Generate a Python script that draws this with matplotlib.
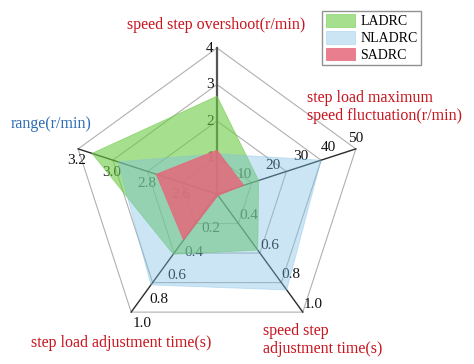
import numpy as np
import matplotlib
matplotlib.use('Agg')
import matplotlib.pyplot as plt

plt.rcParams['font.family'] = ['Liberation Serif', 'DejaVu Serif']

# axes of the radar, clockwise from the top
axis_names = ['speed step overshoot(r/min)',
              'step load maximum\nspeed fluctuation(r/min)',
              'speed step\nadjustment time(s)',
              'step load adjustment time(s)',
              'range(r/min)']
axis_min = [0, 0, 0.2, 0, 2.4]
axis_max = [4, 50, 1.0, 1.0, 3.2]
axis_ticks = [[1, 2, 3, 4],
              [10, 20, 30, 40, 50],
              [0.4, 0.6, 0.8, 1.0],
              [0.2, 0.4, 0.6, 0.8, 1.0],
              [2.6, 2.8, 3.0, 3.2]]
tick_fmt = ['{:.0f}', '{:.0f}', '{:.1f}', '{:.1f}', '{:.1f}']

series = ['LADRC', 'NLADRC', 'SADRC']
ladrc = [2.68, 15, 0.58, 0.51, 3.12]
nladrc = [1.1, 37.5, 0.85, 0.77, 2.97]
sadrc = [1.2, 9.6, 0.21, 0.39, 2.75]

angles = np.deg2rad([90, 18, -54, -126, 162])

W, H = 474, 364
cx, cy, R = 217, 194, 146  # pixel centre and radius


def to_xy(vals):
    vals = np.asarray(vals, float)
    r = (vals - np.array(axis_min)) / (np.array(axis_max) - np.array(axis_min))
    return r * np.cos(angles), r * np.sin(angles)


def px(x, y):
    # pixel position -> data coords
    return (x - cx) / R, (cy - y) / R


fig = plt.figure(figsize=(W / 100, H / 100), dpi=100)
ax = fig.add_axes([0, 0, 1, 1])
ax.set_xlim(-cx / R, (W - cx) / R)
ax.set_ylim(-(H - cy) / R, cy / R)
ax.axis('off')

# pentagon grid
for lev in [0.25, 0.5, 0.75, 1.0]:
    gx = np.append(lev * np.cos(angles), lev * np.cos(angles[0]))
    gy = np.append(lev * np.sin(angles), lev * np.sin(angles[0]))
    ax.plot(gx, gy, color='#b0b0b0', lw=0.8, zorder=1)

# spokes
for i, a in enumerate(angles):
    ax.plot([0, np.cos(a)], [0, np.sin(a)],
            color='#555555' if i == 0 else '#2a2a2a',
            lw=1.6 if i == 0 else 1.0, zorder=2)

# tick labels (pixel offsets from the spoke)
offsets = [(-7, 0), (0, -10), (10, -8), (11, 11), (-1, 12)]
for i, a in enumerate(angles):
    for t in axis_ticks[i]:
        r = (t - axis_min[i]) / (axis_max[i] - axis_min[i])
        x = r * np.cos(a) + offsets[i][0] / R
        y = r * np.sin(a) - offsets[i][1] / R
        ax.text(x, y, tick_fmt[i].format(t), fontsize=11, color='#111111',
                ha='center', va='center', zorder=2)

colors = ['#6bcb43', '#7dc0e6', '#e4687a']
alphas = [0.6, 0.4, 0.85]
for name, vals, c, al in zip(series, [ladrc, nladrc, sadrc], colors, alphas):
    x, y = to_xy(vals)
    ax.fill(x, y, color=c, alpha=al, lw=0.6, label=name, zorder=3)

red = '#c8141e'
fs = 11.5
ax.text(*px(216, 25), axis_names[0], color=red, fontsize=fs, ha='center', va='center')
ax.text(*px(307, 107), axis_names[1], color=red, fontsize=fs, ha='left', va='center',
        linespacing=1.1)
ax.text(*px(263, 340), axis_names[2], color=red, fontsize=fs, ha='left', va='center',
        linespacing=1.1)
ax.text(*px(31, 343), axis_names[3], color=red, fontsize=fs, ha='left', va='center')
ax.text(*px(11, 124), axis_names[4], color='#2f6db5', fontsize=fs, ha='left', va='center')

leg = ax.legend(loc='upper right', bbox_to_anchor=(421 / W, 1 - 11 / H),
                borderaxespad=0, fancybox=False, edgecolor='#777777',
                fontsize=10, handlelength=2.1, handleheight=1.0,
                labelspacing=0.2, borderpad=0.25, handletextpad=0.4)
leg.get_frame().set_linewidth(1.0)

fig.savefig('out.png', dpi=100)
